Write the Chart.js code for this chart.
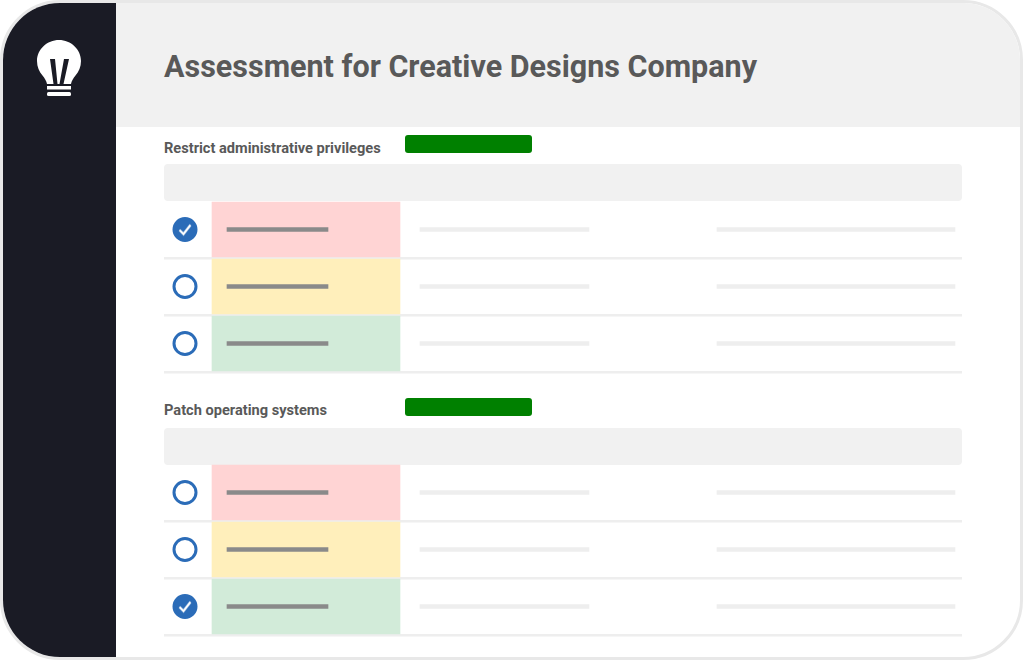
<!DOCTYPE html>
<html>
<head>
<meta charset="utf-8">
<title>Assessment for Creative Designs Company</title>
<script src="https://cdn.jsdelivr.net/npm/chart.js@4"></script>
<style>
html, body { margin: 0; padding: 0; background: #fff; }
#page { position: relative; width: 1024px; height: 661px; overflow: hidden; font-family: Roboto, sans-serif; color: #595959; }
#card { position: absolute; left: 0; top: 0; width: 1023px; height: 660px; box-sizing: border-box; border: 3px solid #e8e8e8; border-radius: 60px; overflow: hidden; background: #fff; }
#side { position: absolute; left: 0; top: 0; width: 113px; height: 100%; background: #1a1b25; }
#head { position: absolute; left: 113px; right: 0; top: 0; height: 124px; background: #f1f1f1; }
#bulb { position: absolute; left: 34px; top: 38px; }
h1 { position: absolute; left: 164px; top: 48px; margin: 0; font-size: 30.5px; line-height: 38px; font-weight: 700; white-space: nowrap; }
.label { position: absolute; left: 164px; font-size: 14.6px; line-height: 18px; font-weight: 700; white-space: nowrap; }
.pill { position: absolute; left: 405px; width: 127px; height: 18px; background: #008000; border-radius: 3px; }
.band { position: absolute; left: 164px; width: 798px; height: 37px; background: #f1f1f1; border-radius: 4px; }
canvas { position: absolute; left: 164px; }
</style>
</head>
<body>
<div id="page">
    <div id="card">
        <div id="side"></div>
        <div id="head"></div>
    </div>
    <svg id="bulb" width="50" height="62" viewBox="34 38 50 62">
        <path fill="#fff" d="M59 40c-12 0-22 9.500-22 21 0 6 2.200 10.500 5.500 14.500 2.200 2.700 4 5.500 4.500 8.500h24c.5-3 2.300-5.800 4.500-8.500 3.300-4 5.500-8.500 5.500-14.500C81 49.500 71 40 59 40z"/>
        <path fill="#1a1b25" d="M50 59h5l2.500 25h-4zM64 59h5l-5.500 25h-4z"/>
        <rect fill="#fff" x="47" y="86" width="24" height="3.500"/>
        <rect fill="#fff" x="47" y="92" width="24" height="4" rx="1.500"/>
    </svg>
    <h1>Assessment for Creative Designs Company</h1>

    <div class="label" style="top:139px">Restrict administrative privileges</div>
    <div class="pill" style="top:135px"></div>
    <div class="band" style="top:164px"></div>
    <canvas id="restrictChart" width="798" height="174" style="top:201px"></canvas>

    <div class="label" style="top:401px">Patch operating systems</div>
    <div class="pill" style="top:398px"></div>
    <div class="band" style="top:428px"></div>
    <canvas id="patchChart" width="798" height="174" style="top:464px"></canvas>
</div>

<script>
// rows of each assessment table
const rowLabels = ['High', 'Medium', 'Low'];
const cellColors = ['#ffd4d4', '#ffefbb', '#d2ebd9'];

// column extents, in table units
const ratingCells = [[48, 236], [48, 236], [48, 236]];
const ratingLines = [[63, 164], [63, 164], [63, 164]];
const middleLines = [[256, 425], [256, 425], [256, 425]];
const rightLines = [[553, 791], [553, 791], [553, 791]];
const radioColumn = 21;

// which row is ticked in each table
const restrictChecked = ['High'];
const patchChecked = ['Low'];

// white tick used as point style
function makeTick() {
    const c = document.createElement('canvas');
    c.width = 14;
    c.height = 14;
    const ctx = c.getContext('2d');
    ctx.strokeStyle = '#fff';
    ctx.lineWidth = 2.2;
    ctx.beginPath();
    ctx.moveTo(1.5, 7.5);
    ctx.lineTo(5.5, 11.5);
    ctx.lineTo(12.5, 2.5);
    ctx.stroke();
    return c;
}

function drawTable(canvasId, checked) {
    const tick = makeTick();
    const ctx = document.getElementById(canvasId).getContext('2d');
    new Chart(ctx, {
        type: 'bar',
        data: {
            labels: rowLabels,
            // lower order is painted last, so the marks sit on the cells
            datasets: [
                { data: ratingCells, backgroundColor: cellColors, barThickness: 55, grouped: false, order: 5 },
                { data: ratingLines, backgroundColor: '#8a8a8a', barThickness: 4, grouped: false, order: 4 },
                { data: middleLines, backgroundColor: '#eeeeee', barThickness: 4, grouped: false, order: 3 },
                { data: rightLines, backgroundColor: '#eeeeee', barThickness: 4, grouped: false, order: 3 },
                {
                    type: 'scatter',
                    order: 2,
                    data: rowLabels.map(function (r) { return { x: radioColumn, y: r }; }),
                    pointRadius: 11,
                    pointBorderWidth: 3,
                    pointBorderColor: '#2b6cb8',
                    pointBackgroundColor: rowLabels.map(function (r) {
                        return checked.includes(r) ? '#2b6cb8' : '#ffffff';
                    })
                },
                {
                    type: 'scatter',
                    order: 1,
                    data: checked.map(function (r) { return { x: radioColumn, y: r }; }),
                    pointStyle: tick
                }
            ]
        },
        options: {
            indexAxis: 'y',
            responsive: false,
            animation: false,
            events: [],
            layout: { autoPadding: false, padding: { top: 0, bottom: 3, left: 0, right: 0 } },
            plugins: {
                legend: { display: false },
                tooltip: { enabled: false }
            },
            scales: {
                x: {
                    type: 'linear',
                    min: 0,
                    max: 798,
                    display: false
                },
                y: {
                    type: 'category',
                    offset: true,
                    border: { display: false },
                    ticks: { display: false },
                    afterFit: function (axis) { axis.width = 0; },
                    grid: {
                        offset: true,
                        drawTicks: false,
                        lineWidth: 2.5,
                        color: function (c) {
                            return c.index === 0 ? 'rgba(0,0,0,0)' : '#eeeeee';
                        }
                    }
                }
            }
        }
    });
}

drawTable('restrictChart', restrictChecked);
drawTable('patchChart', patchChecked);
</script>
</body>
</html>
